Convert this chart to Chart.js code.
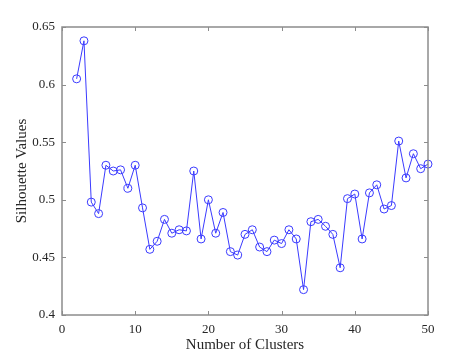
<!DOCTYPE html>
<html>
<head>
<meta charset="utf-8">
<script src="https://cdn.jsdelivr.net/npm/chart.js@4.4.1/dist/chart.umd.min.js"></script>
<style>
  html, body { margin: 0; padding: 0; background: #ffffff; }
  #wrap { width: 474px; height: 355px; }
</style>
</head>
<body>
<div id="wrap"><canvas id="c" width="474" height="355"></canvas></div>
<script>
// ---- data ----
const clusters = [2,3,4,5,6,7,8,9,10,11,12,13,14,15,16,17,18,19,20,21,22,23,24,25,26,27,28,29,30,31,32,33,34,35,36,37,38,39,40,41,42,43,44,45,46,47,48,49,50];
const silhouette = [0.605,0.638,0.498,0.488,0.530,0.525,0.526,0.510,0.530,0.493,0.457,0.464,0.483,0.471,0.474,0.473,0.525,0.466,0.500,0.471,0.489,0.455,0.452,0.470,0.474,0.459,0.455,0.465,0.462,0.474,0.466,0.422,0.481,0.483,0.477,0.470,0.441,0.501,0.505,0.466,0.506,0.513,0.492,0.495,0.551,0.519,0.540,0.527,0.531];
const xTickValues = [0,10,20,30,40,50];
const xTickLabels = ['0','10','20','30','40','50'];
const yTickValues = [0.4,0.45,0.5,0.55,0.6,0.65];
const yTickLabels = ['0.4','0.45','0.5','0.55','0.6','0.65'];
const xTitle = 'Number of Clusters';
const yTitle = 'Silhouette Values';

const points = clusters.map((c, i) => ({ x: c, y: silhouette[i] }));

function labelFor(values, labels, v) {
  for (let i = 0; i < values.length; i++) {
    if (Math.abs(values[i] - v) < 1e-6) return labels[i];
  }
  return '';
}

const boxPlugin = {
  id: 'matlabBox',
  afterDatasetsDraw(chart) {
    const { ctx, chartArea: a, scales } = chart;
    ctx.save();
    ctx.strokeStyle = '#8c8c8c';
    ctx.lineWidth = 1.5;
    ctx.strokeRect(a.left, a.top, a.right - a.left, a.bottom - a.top);
    ctx.lineWidth = 1;
    ctx.beginPath();
    const tl = 4;
    xTickValues.forEach(v => {
      const px = Math.round(scales.x.getPixelForValue(v)) + 0.5;
      ctx.moveTo(px, a.bottom); ctx.lineTo(px, a.bottom - tl);
      ctx.moveTo(px, a.top); ctx.lineTo(px, a.top + tl);
    });
    yTickValues.forEach(v => {
      const py = Math.round(scales.y.getPixelForValue(v)) + 0.5;
      ctx.moveTo(a.left, py); ctx.lineTo(a.left + tl, py);
      ctx.moveTo(a.right, py); ctx.lineTo(a.right - tl, py);
    });
    ctx.stroke();
    ctx.restore();
  }
};

const FONT = "'Liberation Serif', 'Times New Roman', serif";
const TXT = '#262626';

new Chart(document.getElementById('c'), {
  type: 'line',
  data: {
    datasets: [{
      data: points,
      borderColor: '#3a3aff',
      borderWidth: 1,
      backgroundColor: 'rgba(0,0,0,0)',
      pointBorderColor: '#3a3aff',
      pointBackgroundColor: 'rgba(0,0,0,0)',
      pointBorderWidth: 1,
      pointRadius: 4,
      pointHoverRadius: 4,
      tension: 0,
      clip: false
    }]
  },
  options: {
    responsive: false,
    animation: false,
    events: [],
    layout: { padding: { top: 27, right: 46, left: 0, bottom: 0 } },
    plugins: { legend: { display: false }, tooltip: { enabled: false }, title: { display: false } },
    scales: {
      x: {
        type: 'linear',
        min: 0, max: 50,
        afterFit(s) { s.height = 40; },
        afterBuildTicks(s) { s.ticks = xTickValues.map(v => ({ value: v })); },
        grid: { display: false, drawTicks: false },
        border: { display: false },
        ticks: {
          padding: 7,
          color: TXT,
          font: { family: FONT, size: 13 },
          maxRotation: 0,
          autoSkip: false,
          callback: v => labelFor(xTickValues, xTickLabels, v)
        },
        title: {
          display: true, text: xTitle, color: TXT,
          font: { family: FONT, size: 15 },
          padding: { top: 0, bottom: 1 }
        }
      },
      y: {
        type: 'linear',
        min: 0.4, max: 0.65,
        afterFit(s) { s.width = 62; },
        afterBuildTicks(s) { s.ticks = yTickValues.map(v => ({ value: v })); },
        grid: { display: false, drawTicks: false },
        border: { display: false },
        ticks: {
          padding: 7,
          color: TXT,
          font: { family: FONT, size: 13 },
          autoSkip: false,
          callback: v => labelFor(yTickValues, yTickLabels, v)
        },
        title: {
          display: true, text: yTitle, color: TXT,
          font: { family: FONT, size: 15 },
          padding: { top: 13, bottom: 0 }
        }
      }
    }
  },
  plugins: [boxPlugin]
});
</script>
</body>
</html>
